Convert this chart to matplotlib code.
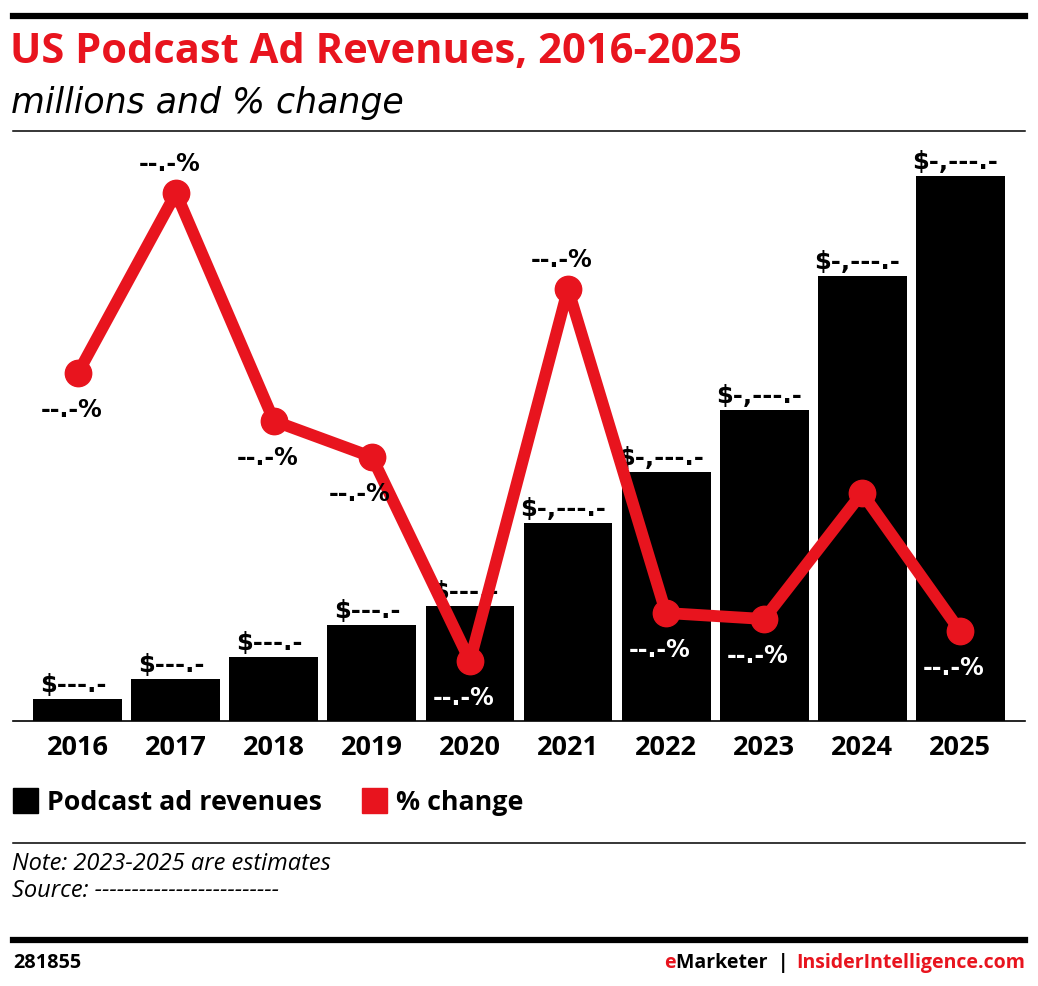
import numpy as np
import matplotlib.pyplot as plt

# data
years = ['2016', '2017', '2018', '2019', '2020', '2021', '2022', '2023', '2024', '2025']
revenues = [106, 202, 307, 461, 552, 950, 1195, 1493, 2136, 2616]
pct_change = [58, 88, 50, 44, 10, 72, 18, 17, 38, 15]
rev_labels = ['$---.-'] * 5 + ['$-,---.-'] * 5
pct_labels = ['--.-%'] * 10
# label above (+) or below (-) the point, and colour
pct_side = [-1, 1, -1, -1, -1, 1, -1, -1, 1, -1]
pct_color = ['black', 'black', 'black', 'black', 'white', 'black', 'white', 'white', 'black', 'white']

RED = '#E8141E'
plt.rcParams['font.family'] = ['Open Sans', 'DejaVu Sans']
LABEL_FONT = ['DejaVu Sans']

W, H = 1038, 986
fig = plt.figure(figsize=(W / 100, H / 100), dpi=100)

def fy(py):
    return 1 - py / H

def fx(px):
    return px / W

# rules
fig.add_artist(plt.Line2D([fx(13), fx(1025)], [fy(16), fy(16)], color='black', lw=4.5))
fig.add_artist(plt.Line2D([fx(13), fx(1025)], [fy(131), fy(131)], color='black', lw=1.1))
fig.add_artist(plt.Line2D([fx(13), fx(1025)], [fy(843), fy(843)], color='black', lw=1.1))
fig.add_artist(plt.Line2D([fx(13), fx(1025)], [fy(940), fy(940)], color='black', lw=4.5))

fig.text(fx(10), fy(53), 'US Podcast Ad Revenues, 2016-2025', color=RED,
         fontsize=30, fontweight='bold', va='center', ha='left')
fig.text(fx(11), fy(103), 'millions and % change', color='black', family=LABEL_FONT,
         fontsize=25, style='italic', va='center', ha='left')

ax = fig.add_axes([fx(13), fy(721), fx(1025) - fx(13), (721 - 140) / H])
x = np.arange(len(years))
ax.bar(x, revenues, width=0.908, color='black', zorder=1)
ax.set_xlim(-0.663, 9.663)
ax.set_ylim(0, 581 * 4.8)
ax.set_yticks([])
ax.set_xticks(x)
ax.set_xticklabels(years, fontsize=19.5, fontweight='bold')
ax.tick_params(axis='x', length=0, pad=10)
for s in ['top', 'right', 'left']:
    ax.spines[s].set_visible(False)
ax.spines['bottom'].set_linewidth(1.2)

for xi, v, lab in zip(x, revenues, rev_labels):
    ax.annotate(lab, (xi, v), xytext=(-5, 2), textcoords='offset pixels',
                ha='center', va='bottom', fontsize=17.5, fontweight='bold',
                family=LABEL_FONT, zorder=2)

ax2 = ax.twinx()
ax2.set_ylim(0, 581 / 6)
ax2.axis('off')
ax2.plot(x, pct_change, color=RED, lw=8.5, marker='o', markersize=19,
         solid_joinstyle='round', solid_capstyle='round', zorder=3)
for xi, v, lab, side, c in zip(x, pct_change, pct_labels, pct_side, pct_color):
    dx = -12 if xi == 3 else -6
    dy = 29 if side > 0 else -37
    ax2.annotate(lab, (xi, v), xytext=(dx, dy), textcoords='offset pixels',
                 ha='center', va='center', fontsize=17, fontweight='bold',
                 family=LABEL_FONT, color=c, zorder=4)

# legend
fig.add_artist(plt.Rectangle((fx(13), fy(813)), fx(25), 25 / H, color='black'))
fig.text(fx(47), fy(803), 'Podcast ad revenues', fontsize=19.3, fontweight='bold', va='center')
fig.add_artist(plt.Rectangle((fx(362), fy(813)), fx(25), 25 / H, color=RED))
fig.text(fx(396), fy(803), '% change', fontsize=19.3, fontweight='bold', va='center')

fig.text(fx(12), fy(864), 'Note: 2023-2025 are estimates', fontsize=17, style='italic', va='center')
fig.text(fx(12), fy(891), 'Source: -------------------------', fontsize=17, style='italic', va='center')

fig.text(fx(13), fy(963), '281855', fontsize=14.3, fontweight='bold', va='center')
t = fig.text(fx(1025), fy(963), 'InsiderIntelligence.com', fontsize=14, fontweight='bold',
             color=RED, va='center', ha='right')
fig.canvas.draw()
r = fig.canvas.get_renderer()
bb = t.get_window_extent(r)
t2 = fig.text(bb.x0 / W - fx(8), fy(963), 'Marketer  |', fontsize=14, fontweight='bold',
              color='black', va='center', ha='right')
bb2 = t2.get_window_extent(r)
fig.text(bb2.x0 / W, fy(963), 'e', fontsize=14, fontweight='bold', color=RED,
         va='center', ha='right')

fig.savefig('out.png', dpi=100)
